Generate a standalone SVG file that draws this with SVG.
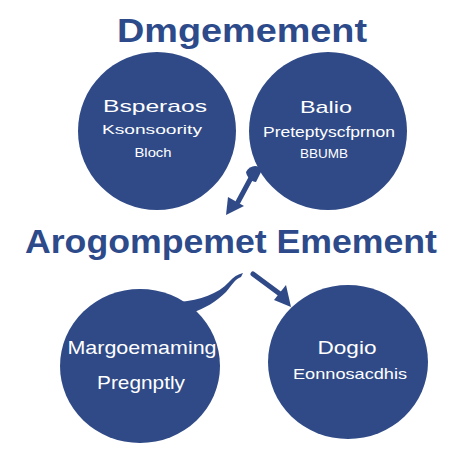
<svg xmlns="http://www.w3.org/2000/svg" width="474" height="474" viewBox="0 0 474 474">
<style>
.h{font-family:"Liberation Sans",Arial,sans-serif;font-weight:bold;fill:#2d4a8a;text-anchor:middle}
.c{fill:#2f4a87}
.t{font-family:"Liberation Sans",Arial,sans-serif;fill:#ffffff;text-anchor:middle}
.ln{stroke:#2f4a87;stroke-width:5;fill:none;stroke-linecap:round}
.ah{fill:#2f4a87}
</style>
<rect width="474" height="474" fill="#ffffff"/>
<text class="h" x="242" y="42" font-size="34" textLength="250" lengthAdjust="spacingAndGlyphs">Dmgemement</text>
<text class="h" x="231" y="253" font-size="34" textLength="412" lengthAdjust="spacingAndGlyphs">Arogompemet Emement</text>
<g id="connectors">
<path class="ln" d="M252 176 L238 202"/>
<path class="ah" d="M226 215 L228 197 L244 206 Z"/>
<path class="ah" d="M246 172 C250 165 258 164 262 170 L256 182 C252 182 247 178 246 172 Z"/>
<path class="ah" d="M180 302 C200 300 218 294 229 282 C233 277 238 274 243 273 L241 277 C235 279 232 285 226 292 C216 302 205 308 192 313 Z"/>
<path class="ln" d="M253 274 L280 294"/>
<path class="ah" d="M291 307 L274 300 L286 285 Z"/>
</g>
<g id="node-tl">
<circle class="c" cx="157" cy="131" r="79"/>
<text class="t" x="155" y="112" font-size="17" textLength="104" lengthAdjust="spacingAndGlyphs">Bsperaos</text>
<text class="t" x="152" y="134" font-size="13" textLength="100" lengthAdjust="spacingAndGlyphs">Ksonsoority</text>
<text class="t" x="153" y="157" font-size="13" textLength="37" lengthAdjust="spacingAndGlyphs">Bloch</text>
</g>
<g id="node-tr">
<circle class="c" cx="328" cy="131" r="79"/>
<text class="t" x="326" y="113" font-size="17" textLength="52" lengthAdjust="spacingAndGlyphs">Balio</text>
<text class="t" x="329" y="137" font-size="15" textLength="132" lengthAdjust="spacingAndGlyphs">Preteptyscfprnon</text>
<text class="t" x="324" y="158" font-size="13" textLength="48" lengthAdjust="spacingAndGlyphs">BBUMB</text>
</g>
<g id="node-bl">
<ellipse class="c" cx="140" cy="366" rx="80" ry="77"/>
<text class="t" x="142" y="354" font-size="19" textLength="149" lengthAdjust="spacingAndGlyphs">Margoemaming</text>
<text class="t" x="141" y="389" font-size="19" textLength="88" lengthAdjust="spacingAndGlyphs">Pregnptly</text>
</g>
<g id="node-br">
<ellipse class="c" cx="348" cy="362" rx="80" ry="77"/>
<text class="t" x="347" y="354" font-size="19" textLength="59" lengthAdjust="spacingAndGlyphs">Dogio</text>
<text class="t" x="350" y="379" font-size="15" textLength="114" lengthAdjust="spacingAndGlyphs">Eonnosacdhis</text>
</g>
</svg>
